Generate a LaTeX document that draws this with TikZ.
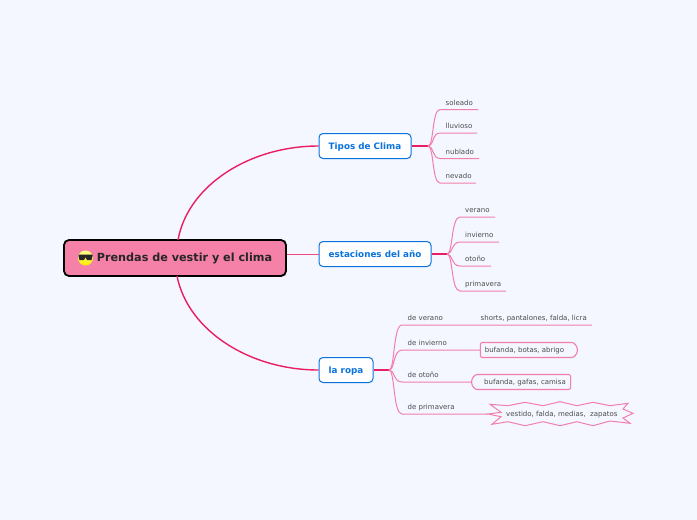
\documentclass[tikz,border=0pt]{standalone}
\usepackage{fontspec}
\setmainfont{DejaVu Sans}
\usetikzlibrary{shapes.misc}
\definecolor{paper}{HTML}{F4F7FF}
\definecolor{rootpink}{HTML}{F580A8}
\definecolor{stem}{HTML}{E91E63}
\definecolor{twigpink}{HTML}{F27FAB}
\definecolor{topicblue}{HTML}{0A72DC}
\begin{document}
\begin{tikzpicture}[
        x=1pt, y=-1pt,
        rootbox/.style={draw=black, line width=1.8pt, fill=rootpink, rounded corners=5pt, minimum width=222pt, minimum height=36pt, inner sep=0pt, text=black!85, text height=8pt, text depth=2pt, font=\bfseries\fontsize{11.2}{12}\selectfont},
        topic/.style={draw=topicblue, line width=1pt, fill=white, rounded corners=4pt, minimum height=25pt, inner sep=0pt, text=topicblue, text height=7pt, text depth=1pt, font=\bfseries\fontsize{8.8}{10}\selectfont},
        stemline/.style={stem, line width=1.4pt},
        stemthin/.style={stem!80!white, line width=1pt},
        stemthick/.style={stem, line width=1.6pt},
        twig/.style={twigpink, line width=1pt},
        leaf/.style={inner sep=0pt, text=black!70, font=\fontsize{7}{8}\selectfont, anchor=base west},
        pinkbox/.style={draw=twigpink, line width=1.1pt, rounded corners=2pt, inner sep=0pt, minimum height=15pt, text=black!70, text height=6pt, text depth=1pt, font=\fontsize{7}{8}\selectfont}
    ]
    % fondo
    \fill[paper] (0,0) rectangle (697,520);
    \useasboundingbox (0,0) rectangle (697,520);

    % --- raiz y temas ---
    \node[rootbox] (root) at (175,258) {\hspace*{19pt}Prendas de vestir y el clima};
    \node[topic, minimum width=92pt] (tipos) at (365,146) {Tipos de Clima};
    \node[topic, minimum width=112pt] (estaciones) at (375,254) {estaciones del año};
    \node[topic, minimum width=54pt] (ropa) at (346,370) {la ropa};

    \coordinate (rootTop) at (178,240);
    \coordinate (rootBot) at (177,276);
    \draw[stemline] (rootTop) .. controls (188,185) and (250,146) .. (tipos.west);
    \draw[stemline] (rootBot) .. controls (188,331) and (250,370) .. (ropa.west);
    \draw[stemthin] (root.east |- estaciones.west) -- (estaciones.west);

    % emoji
    \shade[top color=yellow!45, bottom color=yellow!85!orange] (85.5,258) circle (7.5);
    \fill[black!85] (78.5,254.5) -- (92.5,254.5) -- (92.5,256) -- (91.5,260) -- (87,260) -- (85.5,257) -- (84,260) -- (79.5,260) -- (78.5,256) -- cycle;

    % --- tipos de clima ---
    \coordinate (forkA) at (428,146);
    \draw[stemthick] (tipos.east) -- (forkA);
    \foreach \name/\txt/\yy/\xend in {soleado/soleado/109.5/478, lluvioso/lluvioso/133/477, nublado/nublado/158.5/479, nevado/nevado/183/476} {
        \coordinate (\name End) at (\xend,\yy);
        \node[leaf] (\name) at (445.5,\yy-4.5) {\txt};
        \draw[twig] (forkA) .. controls (434,146) and (432,\yy) .. (440,\yy) -- (\name End);
    }

    % --- estaciones ---
    \coordinate (forkB) at (447,254);
    \draw[stemthick] (estaciones.east) -- (forkB);
    \foreach \name/\txt/\yy/\xend in {verano/verano/217/495, invierno/invierno/242/499, otono/otoño/266/491, primavera/primavera/291/506} {
        \coordinate (\name End) at (\xend,\yy);
        \node[leaf] (\name) at (465,\yy-4.5) {\txt};
        \draw[twig] (forkB) .. controls (453,254) and (451,\yy) .. (460,\yy) -- (\name End);
    }

    % --- la ropa ---
    \coordinate (forkC) at (389,370);
    \draw[stemthick] (ropa.east) -- (forkC);

    \coordinate (shortsEnd) at (592,325);
    \node[pinkbox, rounded rectangle, rounded rectangle west arc=none, minimum width=97pt, fill=paper] (invBox) at (528.5,350) {bufanda, botas, abrigo\hspace*{8pt}};
    \node[pinkbox, rounded rectangle, rounded rectangle east arc=none, minimum width=99pt, fill=paper] (otoBox) at (521.5,382) {\hspace*{7pt}bufanda, gafas, camisa};
    \coordinate (starW) at (488,414);
    \draw[twigpink, line width=1pt, fill=paper]
        (488,414) -- (501,412.3) -- (490,404.3) -- (508,405.7) -- (525,402.3) -- (543,405.7) -- (560,401.7) -- (577,405.7) -- (593,402.3) -- (610,405.7) -- (628,403.3) -- (623,409) -- (633,413.3)
        -- (623,418) -- (630,423.3) -- (610,421) -- (593,425.7) -- (577,421.7) -- (560,425.7) -- (543,421.7) -- (525,425.7) -- (508,421.7) -- (492,424.3) -- (501,416.7) -- cycle;
    \node[leaf] (vest) at (506,416.5) {vestido, falda, medias,\ \ zapatos};

    \foreach \name/\txt/\yy/\goal in {deVerano/de verano/325/shortsEnd, deInvierno/de invierno/350/invBox.west, deOtono/de otoño/382/otoBox.west, dePrimavera/de primavera/414/starW} {
        \node[leaf] (\name) at (407.5,\yy-4.5) {\txt};
        \draw[twig] (forkC) .. controls (395,370) and (393,\yy) .. (402,\yy) -- (\goal);
    }

    \node[leaf] (shorts) at (480.5,320.5) {shorts, pantalones, falda, licra};
\end{tikzpicture}
\end{document}
